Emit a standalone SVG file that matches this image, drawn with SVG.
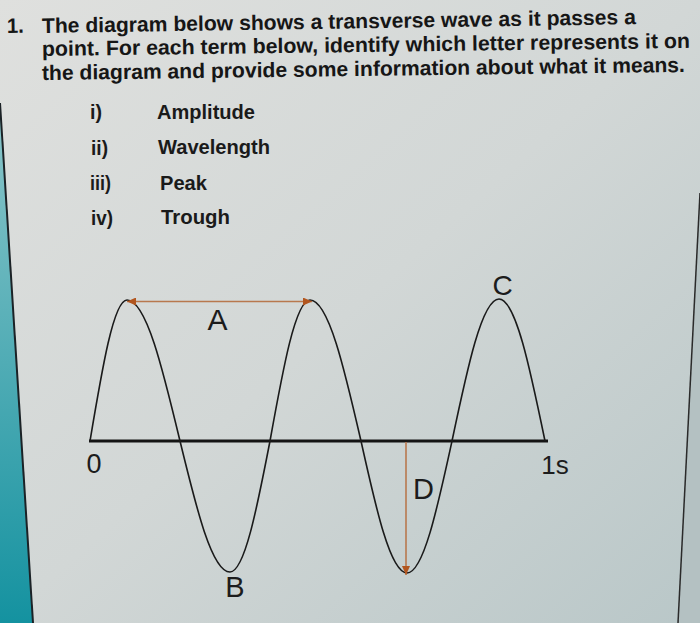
<svg xmlns="http://www.w3.org/2000/svg" width="700" height="623" viewBox="0 0 700 623">
  <defs>
    <linearGradient id="bg" x1="0" y1="0" x2="1" y2="1">
      <stop offset="0" stop-color="#dfe0de"/>
      <stop offset="0.5" stop-color="#d2d7d6"/>
      <stop offset="1" stop-color="#b9c7c8"/>
    </linearGradient>
    <linearGradient id="teal" x1="0" y1="0" x2="0" y2="1">
      <stop offset="0" stop-color="#8cc6ca"/>
      <stop offset="1" stop-color="#1492a0"/>
    </linearGradient>
    <marker id="ah" markerUnits="userSpaceOnUse" markerWidth="9" markerHeight="8" refX="9" refY="4" orient="auto-start-reverse">
      <path d="M0,0 L9,4 L0,8 z" fill="#b2561f"/>
    </marker>
    <style>
      .hd { font-family: "Liberation Sans", Arial, sans-serif; font-weight: bold; font-size: 21px; fill: #161616; }
      .li { font-family: "Liberation Sans", Arial, sans-serif; font-weight: bold; font-size: 20px; fill: #1a1a1a; }
      .lb { font-family: "Liberation Sans", Arial, sans-serif; fill: #1c1c1c; text-anchor: middle; }
      .wave { fill: none; stroke: #1a1a1a; stroke-width: 1.6; }
      .axis { stroke: #141414; stroke-width: 3; }
      .arr { stroke: #b8784e; stroke-width: 1.6; fill: none; marker-end: url(#ah); }
      .arr2 { marker-start: url(#ah); }
    </style>
  </defs>

  <!-- photo background -->
  <rect width="700" height="623" fill="url(#bg)"/>
  <polygon points="0,103 33,623 0,623" fill="url(#teal)"/>
  <line x1="0" y1="103" x2="33" y2="623" stroke="#1b2226" stroke-width="2"/>
  <polygon points="700,193 678,623 700,623" fill="#b4c1c2"/>
  <line x1="700" y1="193" x2="678" y2="623" stroke="#2a2a2a" stroke-width="1.5"/>

  <!-- question text -->
  <g id="question">
    <text class="hd" x="7" y="33" transform="rotate(-0.8 7 33)" textLength="17" lengthAdjust="spacingAndGlyphs">1.</text>
    <text class="hd" x="42" y="33" transform="rotate(-0.85 42 33)" textLength="594" lengthAdjust="spacingAndGlyphs">The diagram below shows a transverse wave as it passes a</text>
    <text class="hd" x="42" y="56" transform="rotate(-0.72 42 56)" textLength="648" lengthAdjust="spacingAndGlyphs">point.  For each term below, identify which letter represents it on</text>
    <text class="hd" x="42" y="80" transform="rotate(-0.72 42 80)" textLength="643" lengthAdjust="spacingAndGlyphs">the diagram and provide some information about what it means.</text>
  </g>

  <g id="terms">
    <text class="li" x="90" y="119" textLength="12" lengthAdjust="spacingAndGlyphs">i)</text>
    <text class="li" x="157" y="119" textLength="98" lengthAdjust="spacingAndGlyphs">Amplitude</text>
    <text class="li" x="91" y="155" textLength="17" lengthAdjust="spacingAndGlyphs">ii)</text>
    <text class="li" x="158" y="154" textLength="112" lengthAdjust="spacingAndGlyphs">Wavelength</text>
    <text class="li" x="90" y="190" textLength="21" lengthAdjust="spacingAndGlyphs">iii)</text>
    <text class="li" x="160" y="189.5" textLength="47" lengthAdjust="spacingAndGlyphs">Peak</text>
    <text class="li" x="91" y="225" textLength="22" lengthAdjust="spacingAndGlyphs">iv)</text>
    <text class="li" x="161" y="223.5" textLength="69" lengthAdjust="spacingAndGlyphs">Trough</text>
  </g>

  <!-- wave diagram -->
  <g id="axis">
    <line class="axis" x1="89" y1="441" x2="548" y2="441"/>
  </g>
  <g id="wave">
    <path class="wave" d="M90,441
      C102.1,368.8 113.6,300 127,300
      C146.2,300 162.7,368.8 180,441
      C196.3,508.1 211.9,572 230,572
      C244.5,572 257,508.1 270,441
      C283,368.8 295.5,300 310,300
      C328.5,300 344.4,368.8 361,441
      C376,508.6 390.4,573 407,573
      C423.3,573 437.3,508.6 452,441
      C467.3,368.3 482,299 499,299
      C515.6,299 530,368.3 545,441"/>
  </g>

  <g id="connectors">
    <line class="arr arr2" x1="127" y1="301.5" x2="312" y2="301.5"/>
    <line class="arr" x1="406" y1="442" x2="406" y2="575"/>
  </g>

  <g id="labels">
    <text class="lb" x="217.5" y="330" font-size="30">A</text>
    <text class="lb" x="235" y="597" font-size="29">B</text>
    <text class="lb" x="502.5" y="295" font-size="28">C</text>
    <text class="lb" x="423.5" y="499" font-size="29">D</text>
    <text class="lb" x="94" y="473" font-size="27">0</text>
    <text class="lb" x="555" y="474" font-size="26">1s</text>
  </g>
</svg>
